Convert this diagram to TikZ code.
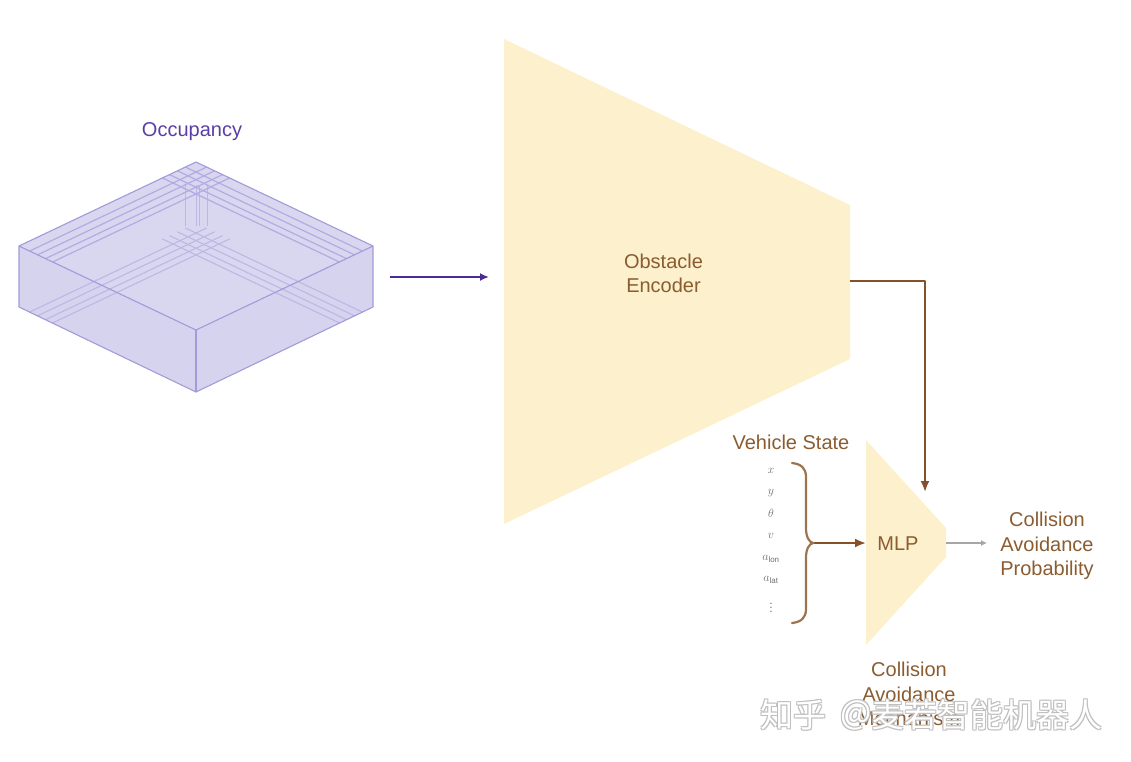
\documentclass[tikz,border=0pt]{standalone}
\usepackage{fontspec}
\setmainfont{Liberation Sans}
\newfontfamily\cjk{Noto Sans CJK SC}
\usetikzlibrary{arrows.meta,calc}
\definecolor{sand}{HTML}{FDF0CD}
\definecolor{umber}{HTML}{8A5C30}
\definecolor{arrowbrown}{HTML}{86512A}
\definecolor{violetink}{HTML}{5A3EA6}
\definecolor{arrowviolet}{HTML}{4A2C92}
\definecolor{lav}{HTML}{D9D6F0}
\definecolor{lavside}{HTML}{D6D3EE}
\definecolor{lavedge}{HTML}{A29ADA}
\definecolor{lavgrid}{HTML}{B2ABE2}
\definecolor{lavgridlow}{HTML}{BDB7E5}
\definecolor{statetext}{HTML}{707070}
\tikzset{
  x=1pt,y=-1pt,
  block/.style={fill=sand,draw=none},
  label/.style={font=\fontsize{20}{24.5}\selectfont,text=umber,align=center,inner sep=0pt},
  statevar/.style={font=\fontsize{12}{14}\selectfont,text=statetext,inner sep=0pt},
  brownline/.style={draw=arrowbrown,line width=2pt,-{Latex[length=11pt,width=9pt]}},
  boxedge/.style={draw=lavedge,line width=1.1pt,line join=round},
  topgrid/.style={draw=lavgrid,line width=1.2pt},
  lowgrid/.style={draw=lavgridlow,line width=1.1pt},
  backgrid/.style={draw=lavgridlow,line width=.8pt},
  mark text/.style={font=\cjk\fontsize{33}{37}\selectfont,inner sep=0pt,anchor=west},
}
\begin{document}
\begin{tikzpicture}
\useasboundingbox (0,0) rectangle (1131,761);
% occupancy box
\coordinate (A) at (196,162);
\coordinate (L) at (19,246);
\coordinate (R) at (373,246);
\coordinate (F) at (196,330);
\coordinate (LB) at (19,307);
\coordinate (RB) at (373,307);
\coordinate (FB) at (196,392);
\coordinate (AB) at (196,223);
\fill[lavside] (L)--(A)--(R)--(RB)--(FB)--(LB)--cycle;
\fill[lav] (L)--(A)--(R)--(F)--cycle;
% lower grid
\foreach \f in {.06,.105,.15,.19}{
  \draw[lowgrid] ($(AB)+\f*(-177,84)$) -- ($(RB)+\f*(-177,84)$);
  \draw[lowgrid] ($(AB)+\f*(177,84)$) -- ($(LB)+\f*(177,84)$);
}
% back verticals
\foreach \dx in {-11,0,3,11}{
  \draw[backgrid] (196+\dx,185) -- (196+\dx,226);
}
% top grid
\foreach \f in {.06,.105,.15,.19}{
  \draw[topgrid] ($(A)+\f*(-177,84)$) -- ($(R)+\f*(-177,84)$);
  \draw[topgrid] ($(A)+\f*(177,84)$) -- ($(L)+\f*(177,84)$);
}
\draw[boxedge] (L)--(A)--(R)--(F)--cycle;
\draw[boxedge] (L)--(LB)--(FB)--(RB)--(R);
\draw[boxedge] (F)--(FB);
\node[font=\fontsize{20}{24}\selectfont,text=violetink,inner sep=0pt] (occ) at (192,131.5) {Occupancy};
% blocks
\fill[block] (504,39)--(850,205)--(850,359)--(504,524)--cycle;
\fill[block] (866,440)--(946,528)--(946,557)--(866,645)--cycle;
\node[label] (enc) at (663.5,273.5) {Obstacle\\Encoder};
\node[label] (mlp) at (898,544) {MLP};
\node[label] (vs) at (791,442.5) {Vehicle State};
\node[label] (prob) at (1047,546) {Collision\\Avoidance\\Probability};
\node[label] (cap) at (909,694) {Collision\\Avoidance\\Mechanism};
% state variables
\node[statevar] (sx) at (771,471) {$x$};
\node[statevar] (sy) at (771,493) {$y$};
\node[statevar] (st) at (771,513) {$\theta$};
\node[statevar] (sv) at (771,536) {$v$};
\node[statevar] (sa) at (771,559) {$a_{\mathrm{lon}}$};
\node[statevar] (sb) at (771,580) {$a_{\mathrm{lat}}$};
\node[statevar] (sd) at (771,605) {$\vdots$};
% connectors
\coordinate (occOut) at (390,277);
\coordinate (encIn) at (489,277);
\draw[draw=arrowviolet,line width=1.8pt,-{Latex[length=9pt,width=8pt]}] (occOut) -- (encIn);
\coordinate (encOut) at (850,281);
\coordinate (mlpTop) at (925,492);
\draw[brownline,line join=round] (encOut) -| (mlpTop);
\coordinate (braceTip) at (810,543);
\coordinate (mlpIn) at (866,543);
\draw[brownline] (braceTip) -- (mlpIn);
\draw[draw=umber!85,line width=2.2pt,line cap=round]
  (792,463) .. controls (801,464) and (806,468) .. (806,477)
  -- (806,528) .. controls (806,537) and (809,542) .. (813,543)
  .. controls (809,544) and (806,549) .. (806,558)
  -- (806,609) .. controls (806,618) and (801,622) .. (792,623);
\coordinate (mlpOut) at (946,543);
\coordinate (probIn) at (987,543);
\draw[draw=gray!70,line width=1.2pt,-{Latex[length=6pt,width=6pt]}] (mlpOut) -- (probIn);
% watermark: grey edge under a white face
\foreach \dx/\dy in {1/1,-1/1,1/-1,-1/-1}{
  \node[mark text,text=black!25] at (760+\dx,715+\dy) {知乎};
  \node[mark text,text=black!25] at (840+\dx,715+\dy) {@};
  \node[mark text,text=black!25] at (871+\dx,715+\dy) {麦若智能机器人};
}
\node[mark text,text=white] (wmA) at (760,715) {知乎};
\node[mark text,text=white] (wmB) at (840,715) {@};
\node[mark text,text=white] (wmC) at (871,715) {麦若智能机器人};
\end{tikzpicture}
\end{document}
